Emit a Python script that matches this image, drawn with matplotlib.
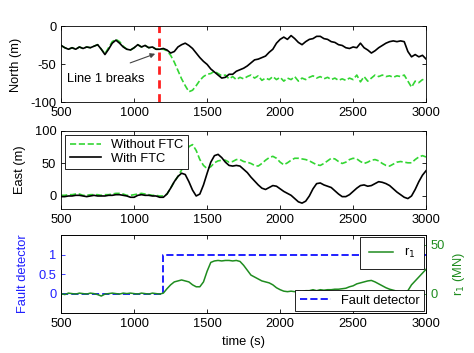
import numpy as np
import matplotlib
matplotlib.use("Agg")
import matplotlib.pyplot as plt

plt.rcParams["font.family"] = ["Liberation Sans", "DejaVu Sans"]
plt.rcParams["font.size"] = 9.3
plt.rcParams["axes.unicode_minus"] = False

# time axis, 25 s steps
t = np.arange(500, 3001, 25)

# North position (m)
north_ftc = [-25, -28, -30, -28, -30, -27, -29, -27, -28, -26, -24, -30, -37, -30, -22, -18,
             -22, -27, -30, -31, -28, -24, -27, -25, -28, -27, -30, -30, -29, -31, -35, -33,
             -27, -24, -22, -25, -29, -35, -41, -46, -50, -56, -60, -64, -68, -67, -63, -63,
             -59, -57, -55, -52, -48, -44, -43, -41, -39, -34, -30, -22, -17, -14, -17, -12,
             -16, -21, -24, -20, -17, -16, -13, -13, -16, -17, -20, -21, -24, -25, -28, -29,
             -27, -28, -22, -28, -31, -35, -32, -28, -25, -22, -20, -19, -20, -19, -20, -33,
             -40, -37, -40, -38, -43]
north_noftc = [-25, -28, -30, -28, -30, -27, -29, -27, -28, -26, -24, -30, -36, -28, -20, -17,
               -20, -26, -30, -31, -28, -24, -27, -25, -28, -27, -30, -30, -30, -32, -38, -47,
               -58, -69, -78, -86, -84, -78, -71, -66, -63, -62, -59, -62, -65, -64, -69, -66,
               -70, -67, -69, -66, -64, -68, -65, -71, -68, -70, -66, -70, -67, -72, -68, -70,
               -66, -72, -68, -70, -67, -65, -68, -66, -69, -67, -70, -68, -71, -69, -71, -68,
               -70, -64, -73, -66, -72, -68, -64, -66, -64, -66, -65, -67, -65, -66, -64, -72,
               -80, -72, -74, -70, -71]

# East position (m)
east_ftc = [-1, -1, 0, 0, 1, 1, 0, -1, 0, 1, 0, 0, 0, 1, 1, 2,
            2, 1, 0, -2, -2, 1, 2, 1, 1, 0, 0, -2, -2, 3, 12, 22,
            30, 35, 33, 22, 9, 0, 3, 17, 35, 52, 62, 64, 59, 52, 47, 46,
            47, 46, 41, 36, 29, 23, 17, 12, 10, 13, 16, 15, 11, 7, 4, 1,
            -4, -9, -11, -8, 0, 11, 19, 20, 17, 15, 13, 8, 3, -1, -1, 2,
            7, 12, 16, 17, 15, 16, 19, 22, 21, 19, 16, 11, 6, 2, -2, -4,
            0, 10, 22, 32, 39]
east_noftc = [1, 1, 2, 2, 3, 3, 1, 1, 2, 2, 2, 1, 2, 2, 3, 4,
              4, 3, 1, 1, 2, 3, 4, 3, 2, 1, 1, 0, 0, 3, 12, 22,
              30, 40, 60, 76, 79, 70, 56, 47, 42, 45, 51, 54, 55, 55, 52, 53,
              56, 56, 53, 52, 50, 47, 46, 50, 55, 59, 61, 58, 52, 48, 51, 55,
              58, 58, 57, 56, 54, 51, 48, 47, 50, 54, 58, 57, 53, 50, 52, 56,
              58, 57, 53, 50, 52, 55, 56, 54, 50, 47, 46, 49, 52, 53, 52, 51,
              51, 56, 60, 62, 60]

# residual r1 (MN)
r1 = [0, -1, 0.5, 0, -0.5, 0.5, 0, -0.5, 0.5, 0, -1, -2.5, -0.5, 0, 0.5, 0,
      -0.5, 0.5, 0, 0.5, 0, -0.5, 0.5, 0, -0.5, 0.5, 0, -0.5, 0.5, 5, 9, 12,
      13, 14, 13, 12, 9, 7, 7, 12, 23, 32, 33.5, 34, 33.5, 34, 34, 33.5,
      34, 33, 29, 24, 19, 17, 15, 13, 12, 11, 9, 6, 4, 2.5, 2, 2.5,
      2, 2.5, 2, 3, 3, 4, 3, 4, 3.5, 4, 4, 4.5, 4.5, 5, 5.5, 7,
      8, 10, 11, 12, 13, 13.5, 12, 10, 8, 6, 4.5, 3.5, 2.5, 2, 2, 3,
      9, 13, 17, 21, 25]

# fault detector step
fault_t = [500, 1200, 1200, 3000]
fault = [0, 0, 1, 1]

t_break = 1170
xticks = [500, 1000, 1500, 2000, 2500, 3000]

green = "#33d633"
dgreen = "#1f8c1f"
blue = "#2020ff"

fig = plt.figure(figsize=(4.74, 3.53), dpi=100)
ax1 = fig.add_axes([0.129, 0.710, 0.770, 0.215])
ax2 = fig.add_axes([0.129, 0.408, 0.770, 0.221])
ax3 = fig.add_axes([0.129, 0.113, 0.770, 0.221])


def style(ax):
    ax.set_xlim(500, 3000)
    ax.set_xticks(xticks)
    ax.tick_params(direction="in", top=True, right=True, length=3, width=0.6)
    for s in ax.spines.values():
        s.set_linewidth(0.6)


# ─── North ───
ax1.plot(t, north_noftc, "--", color=green, lw=1.2)
ax1.plot(t, north_ftc, "-", color="k", lw=1.2)
ax1.axvline(t_break, color="#ff2020", ls=(0, (3, 2)), lw=2)
ax1.text(541, -69, "Line 1 breaks", ha="left", va="center")
ax1.annotate("", xy=(1144, -36), xytext=(973, -48),
             arrowprops=dict(arrowstyle="-|>", color="#444444", lw=0.8,
                             mutation_scale=7, shrinkA=0, shrinkB=0))
ax1.set_ylim(-100, 0)
ax1.set_yticks([-100, -50, 0])
ax1.set_ylabel("North (m)", labelpad=6)
style(ax1)

# ─── East ───
ax2.plot(t, east_noftc, "--", color=green, lw=1.2, label="Without FTC")
ax2.plot(t, east_ftc, "-", color="k", lw=1.2, label="With FTC")
ax2.set_ylim(-20, 100)
ax2.set_yticks([0, 50, 100])
ax2.set_ylabel("East (m)", labelpad=6)
ax2.legend(loc="upper left", fancybox=False, edgecolor="k", framealpha=1,
           handlelength=2.4, borderpad=0.35, labelspacing=0.1,
           borderaxespad=0.3).get_frame().set_linewidth(0.6)
style(ax2)

# ─── Fault detector / r1 ───
ax3r = ax3.twinx()
lf, = ax3.plot(fault_t, fault, "--", color=blue, lw=1.4, label="Fault detector")
lr, = ax3r.plot(t, r1, "-", color=dgreen, lw=1.1, label="r$_1$")
ax3.set_ylim(-0.5, 1.5)
ax3.set_yticks([0, 0.5, 1])
ax3.set_yticklabels(["0", "0.5", "1"])
ax3.set_ylabel("Fault detector", color=blue, labelpad=7)
ax3.set_xlabel("time (s)")
style(ax3)
ax3.tick_params(axis="y", colors=blue, right=False)
ax3r.set_ylim(-20, 60)
ax3r.set_yticks([0, 50])
ax3r.set_ylabel("r$_1$ (MN)", color=dgreen)
ax3r.tick_params(axis="y", direction="in", colors=dgreen, length=3, width=0.6)
for s in ax3r.spines.values():
    s.set_linewidth(0.6)

leg1 = ax3r.legend([lr], ["r$_1$"], loc="upper right", fancybox=False,
                   edgecolor="k", framealpha=1, handlelength=1.9,
                   borderpad=0.7, handletextpad=0.8, borderaxespad=0.15)
leg1.get_frame().set_linewidth(0.6)
ax3r.add_artist(leg1)
leg2 = ax3r.legend([lf], ["Fault detector"], loc="lower right", fancybox=False,
                   edgecolor="k", framealpha=1, handlelength=2.4,
                   borderpad=0.35, borderaxespad=0.15)
leg2.get_frame().set_linewidth(0.6)

fig.savefig("out.png", dpi=100)
